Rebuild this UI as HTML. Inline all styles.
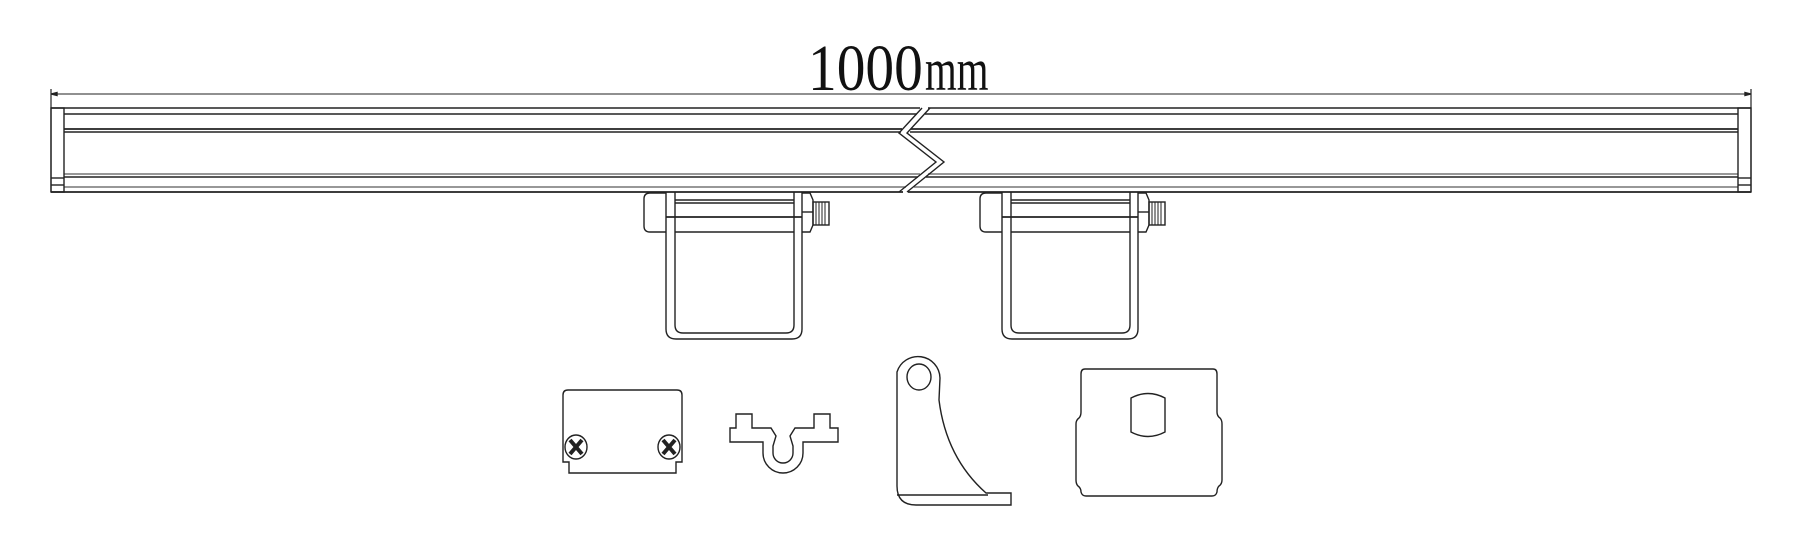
<!DOCTYPE html>
<html><head><meta charset="utf-8"><style>
html,body{margin:0;padding:0;background:#fff;}
svg{display:block;}
</style></head><body>
<svg width="1796" height="540" viewBox="0 0 1796 540" xmlns="http://www.w3.org/2000/svg">
<g fill="none" stroke="#222" stroke-width="1.4">
<line x1="51" y1="94" x2="1751" y2="94" stroke-width="1"/>
<line x1="51" y1="89" x2="51" y2="192" stroke-width="1.2"/>
<line x1="1751" y1="89" x2="1751" y2="192" stroke-width="1.2"/>
<path d="M51,94 l6,-1.5 v3z M1751,94 l-6,-1.5 v3z" fill="#222"/>
<g>
<line x1="51" y1="108" x2="920" y2="108"/>
<line x1="64" y1="114" x2="917" y2="114"/>
<line x1="64" y1="129" x2="902" y2="129" stroke-width="1.8"/>
<line x1="64" y1="132" x2="901" y2="132"/>
<line x1="64" y1="174" x2="920" y2="174" stroke="#777"/>
<line x1="64" y1="177" x2="918" y2="177"/>
<line x1="64" y1="187" x2="906" y2="187" stroke="#777"/>
<line x1="51" y1="192" x2="903" y2="192" stroke-width="1.8"/>
<rect x="51" y="108" width="13" height="84"/>
<line x1="51" y1="178" x2="64" y2="178"/>
<line x1="51" y1="185" x2="64" y2="185"/>
</g>
<g>
<line x1="928" y1="108" x2="1751" y2="108"/>
<line x1="925" y1="114" x2="1738" y2="114"/>
<line x1="911" y1="129" x2="1738" y2="129" stroke-width="1.8"/>
<line x1="910" y1="132" x2="1738" y2="132"/>
<line x1="928" y1="174" x2="1738" y2="174" stroke="#777"/>
<line x1="926" y1="177" x2="1738" y2="177"/>
<line x1="914" y1="187" x2="1738" y2="187" stroke="#777"/>
<line x1="908" y1="192" x2="1751" y2="192" stroke-width="1.8"/>
<rect x="1738" y="108" width="13" height="84"/>
<line x1="1738" y1="178" x2="1751" y2="178"/>
<line x1="1738" y1="185" x2="1751" y2="185"/>
</g>
<polyline points="922,108 899,133 936,162 899,192"/>
<polyline points="930,108 907,133 944,162 907,192"/>

<g id="br">
<path d="M666,192 V329 Q666,339 676,339 H792 Q802,339 802,329 V192"/>
<path d="M675,192 V325 Q675,333 683,333 H786 Q794,333 794,325 V192"/>
<path d="M666,193 H650 Q644,193 644,199 V226 Q644,232 650,232 H666"/>
<line x1="675" y1="200" x2="794" y2="200"/>
<line x1="675" y1="203" x2="794" y2="203"/>
<line x1="666" y1="217" x2="802" y2="217" stroke-width="1.8"/>
<line x1="675" y1="232" x2="794" y2="232"/>
<path d="M802,193 H810 L813,200 V225 L810,232 H802"/>
<line x1="802" y1="212" x2="813" y2="212"/>
<rect x="813" y="202" width="16" height="23"/>
<path d="M816,202 V225 M819,202 V225 M822,202 V225 M825,202 V225" stroke-width="1"/>
</g>
<use href="#br" transform="translate(336,0)"/>

<path d="M568,390 H677 Q682,390 682,395 V462 H676 V473 H569 V462 H563 V395 Q563,390 568,390 Z"/>
<ellipse cx="576" cy="447" rx="11" ry="12"/>
<ellipse cx="669" cy="447" rx="11" ry="12"/>
<path d="M570,440 L582,454 M582,440 L570,454 M663,440 L675,454 M675,440 L663,454" stroke-width="4"/>

<path d="M736,414 H752 V428 H771 L776,436 L773,446 V453 A10,10 0 0 0 793,453 V446 L790,436 L795,428 H814 V414 H830 V428 H838 V442 H803 V453 A20,20 0 0 1 763,453 V442 H730 V428 H736 Z"/>

<path d="M897,372 A22,22 0 0 1 940,378 L939,400 C944,440 960,470 986,493 L1011,493 L1011,505 L916,505 Q897,505 897,486 Z"/>
<line x1="897" y1="495" x2="988" y2="495"/>
<ellipse cx="919" cy="377" rx="12" ry="13"/>

<path d="M1085,369 H1213 Q1217,369 1217,374 V412 Q1217,416 1220,418 Q1222,420 1222,424 V480 Q1222,484 1219,486 Q1217,488 1217,492 Q1216,496 1212,496 H1086 Q1082,496 1081,492 Q1081,488 1078,486 Q1076,484 1076,480 V424 Q1076,420 1079,418 Q1081,416 1081,412 V374 Q1081,369 1085,369 Z"/>
<path d="M1131,398 Q1148,389 1165,398 V432 Q1148,441 1131,432 Z"/>
</g>
<text x="0" y="90" font-family="Liberation Serif, serif" font-size="66" fill="#111" transform="translate(808,0) scale(0.87,1)">1000</text>
<text x="0" y="90" font-family="Liberation Serif, serif" font-size="60" fill="#111" transform="translate(925,0) scale(0.68,1)">mm</text>
</svg>
</body></html>
